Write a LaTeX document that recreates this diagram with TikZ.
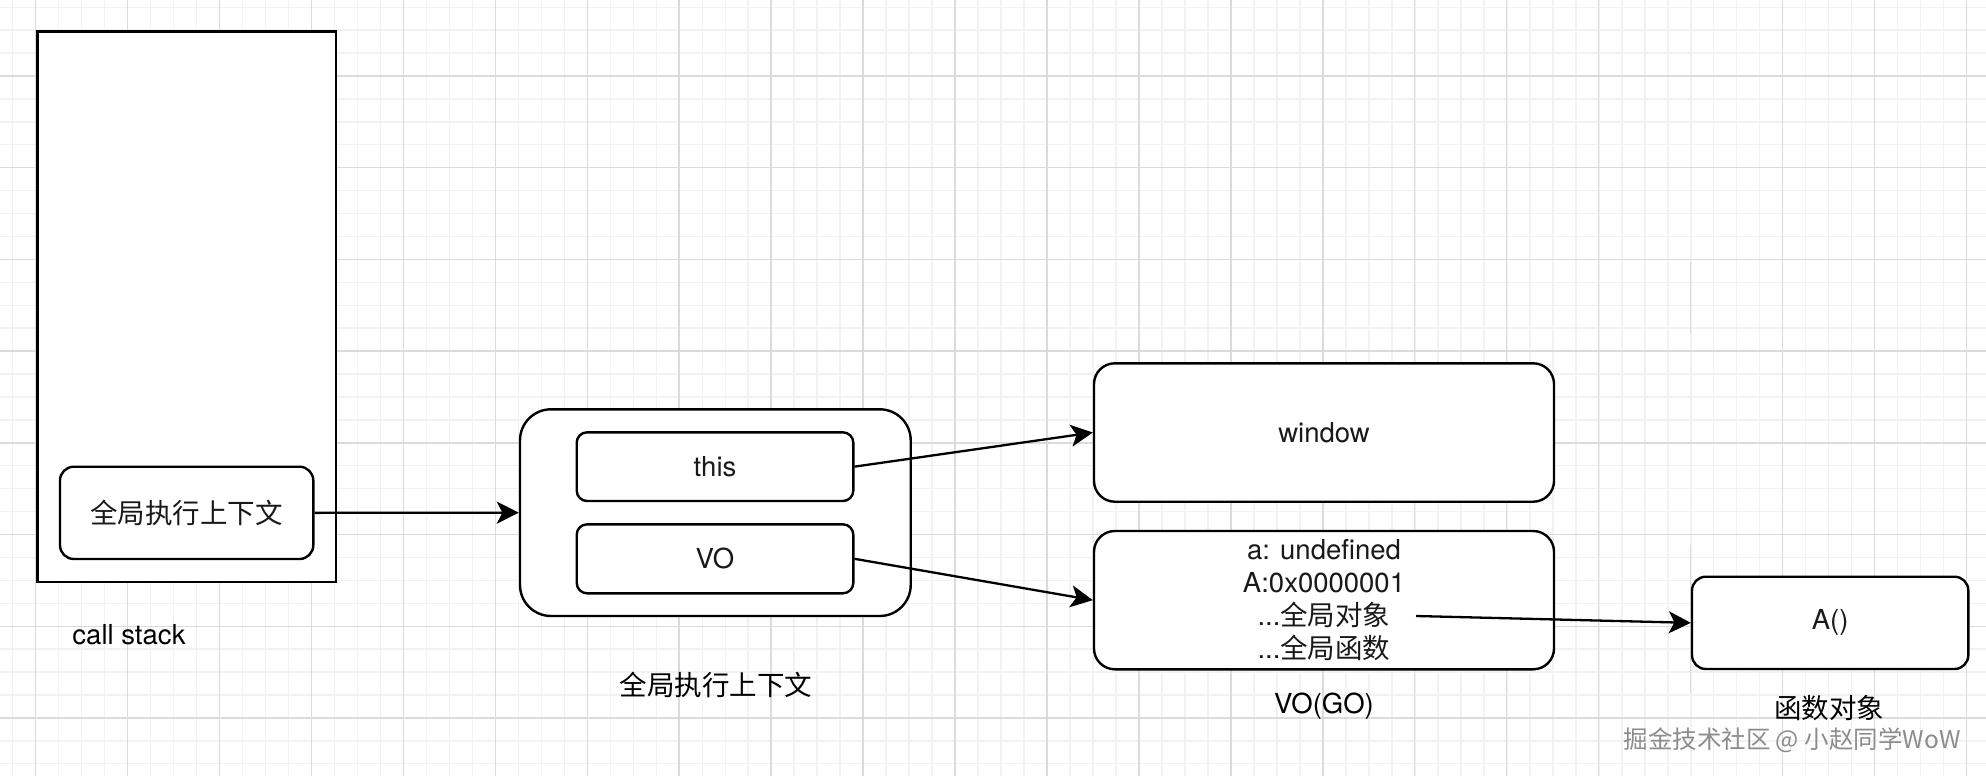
\documentclass[tikz,border=0pt]{standalone}
\usepackage{fontspec}
\setmainfont{TeX Gyre Heros}
\newfontfamily\cjk{Noto Sans CJK SC}
\usetikzlibrary{arrows.meta}

\newcommand\diafont{\fontsize{13.75pt}{16.5pt}\selectfont}

\tikzset{
    minorgrid/.style={line width=0.7pt, draw=black!5},
    majorgrid/.style={line width=0.7pt, draw=black!14},
    plainbox/.style={draw, line width=1.2pt, fill=white, inner sep=0pt, font=\diafont},
    roundbox/.style={plainbox, text=black!90},
    caption/.style={inner sep=0pt, font=\diafont},
    watermark/.style={inner sep=0pt, text=black!45, font=\cjk\fontsize{12.25pt}{14pt}\selectfont},
    link/.style={line width=1.15pt, -{Stealth[length=11pt, width=11pt, inset=2.8pt]}}
}

\begin{document}
\begin{tikzpicture}[x=0.5pt, y=-0.5pt]
            \useasboundingbox (0,0) rectangle (1986,776);
            \fill[white] (0,0) rectangle (1986,776);

            % grid of the canvas
            \foreach \i in {0,...,86}
                \draw[minorgrid] ({12.51+22.99*\i},0) -- ++(0,776);
            \foreach \j in {0,...,33}
                \draw[minorgrid] (0,{7.225+22.925*\j}) -- ++(1986,0);
            \foreach \i in {0,...,17,19,20,21}
                \draw[majorgrid] ({35.5+91.95*\i},0) -- ++(0,776);
            \foreach \j in {0,...,7}
                \draw[majorgrid] (0,{76+91.7*\j}) -- ++(1986,0);
            \draw[majorgrid] (1690.6,262) -- (1690.6,333);
            \draw[majorgrid] (1690.6,545) -- (1690.6,693);

            % call stack
            \node[plainbox, minimum width=149.35pt, minimum height=275.2pt] (stack) at (186.65,306.5) {};
            \node[roundbox, rounded corners=6.9pt, minimum width=126.65pt, minimum height=46.15pt] (gctx) at (186.65,512.85) {\cjk 全局执行上下文};
            \node[caption] (stacklbl) at (129,635) {call stack};

            % execution context
            \node[roundbox, rounded corners=15.5pt, minimum width=195.35pt, minimum height=103.35pt] (ecs) at (715.35,512.65) {};
            \node[roundbox, rounded corners=5.2pt, minimum width=138.3pt, minimum height=34.35pt] (this) at (715,466.65) {this};
            \node[roundbox, rounded corners=5.2pt, minimum width=138.3pt, minimum height=34.5pt] (vo) at (715,558.8) {VO};
            \node[caption] (ecslbl) at (716,685) {\cjk 全局执行上下文};

            % global object
            \node[roundbox, rounded corners=10.4pt, minimum width=230pt, minimum height=69.2pt] (window) at (1324,432.5) {window};
            \node[roundbox, rounded corners=10.4pt, minimum width=230pt, minimum height=69.15pt, align=center] (vogo) at (1324,600.15)
                {a: undefined\\A:0x0000001\\...{\cjk 全局对象}\\...{\cjk 全局函数}};
            \node[caption] (vogolbl) at (1324,706) {VO(GO)};
            \coordinate (objtail) at (1416,616);

            % function object
            \node[roundbox, rounded corners=6.9pt, minimum width=138.15pt, minimum height=46.15pt] (fnobj) at (1830.15,622.85) {A()};
            \node[caption] (fnobjlbl) at (1829,708) {\cjk 函数对象};

            \draw[link] (gctx.east) -- (ecs.west);
            \draw[link] (this.east) -- (window.west);
            \draw[link] (vo.east) -- (vogo.west);
            \draw[link] (objtail) -- (fnobj.west);

            \node[watermark] (mark) at (1792,740) {掘金技术社区 @ 小赵同学WoW};
        \end{tikzpicture}
\end{document}
